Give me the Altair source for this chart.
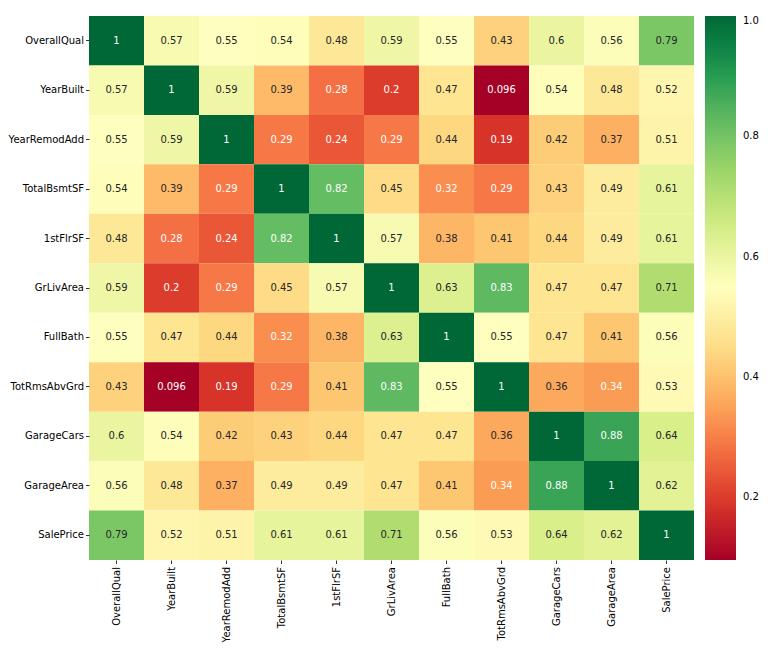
import altair as alt
import pandas as pd
import numpy as np

cols = ["OverallQual", "YearBuilt", "YearRemodAdd", "TotalBsmtSF", "1stFlrSF",
        "GrLivArea", "FullBath", "TotRmsAbvGrd", "GarageCars", "GarageArea", "SalePrice"]

r_overallqual  = [1, 0.57, 0.55, 0.54, 0.48, 0.59, 0.55, 0.43, 0.6, 0.56, 0.79]
r_yearbuilt    = [0.57, 1, 0.59, 0.39, 0.28, 0.2, 0.47, 0.096, 0.54, 0.48, 0.52]
r_yearremodadd = [0.55, 0.59, 1, 0.29, 0.24, 0.29, 0.44, 0.19, 0.42, 0.37, 0.51]
r_totalbsmtsf  = [0.54, 0.39, 0.29, 1, 0.82, 0.45, 0.32, 0.29, 0.43, 0.49, 0.61]
r_1stflrsf     = [0.48, 0.28, 0.24, 0.82, 1, 0.57, 0.38, 0.41, 0.44, 0.49, 0.61]
r_grlivarea    = [0.59, 0.2, 0.29, 0.45, 0.57, 1, 0.63, 0.83, 0.47, 0.47, 0.71]
r_fullbath     = [0.55, 0.47, 0.44, 0.32, 0.38, 0.63, 1, 0.55, 0.47, 0.41, 0.56]
r_totrmsabvgrd = [0.43, 0.096, 0.19, 0.29, 0.41, 0.83, 0.55, 1, 0.36, 0.34, 0.53]
r_garagecars   = [0.6, 0.54, 0.42, 0.43, 0.44, 0.47, 0.47, 0.36, 1, 0.88, 0.64]
r_garagearea   = [0.56, 0.48, 0.37, 0.49, 0.49, 0.47, 0.41, 0.34, 0.88, 1, 0.62]
r_saleprice    = [0.79, 0.52, 0.51, 0.61, 0.61, 0.71, 0.56, 0.53, 0.64, 0.62, 1]

rows = [r_overallqual, r_yearbuilt, r_yearremodadd, r_totalbsmtsf, r_1stflrsf,
        r_grlivarea, r_fullbath, r_totrmsabvgrd, r_garagecars, r_garagearea, r_saleprice]

colorbar_ticks = [0.2, 0.4, 0.6, 0.8, 1.0]

records = []
for i, rname in enumerate(cols):
    for j, cname in enumerate(cols):
        v = rows[i][j]
        records.append({"row": rname, "col": cname, "v": v,
                        "label": (f"{v:.2g}" if v != 1 else "1")})
df = pd.DataFrame(records)

vmin, vmax = 0.0955, 1.0
rdylgn = ['#a50026', '#d73027', '#f46d43', '#fdae61', '#fee08b', '#ffffbf',
          '#d9ef8b', '#a6d96a', '#66bd63', '#1a9850', '#006837']
dom = list(np.linspace(vmin, vmax, len(rdylgn)))

font = "DejaVu Sans"

x = alt.X("col:N", sort=cols, title=None,
          scale=alt.Scale(paddingInner=0, paddingOuter=0),
          axis=alt.Axis(labelAngle=270, labelFontSize=10, labelFont=font, labelColor="black",
                        tickSize=3.5, tickColor="#333", domain=False, labelPadding=3,
                        labelAlign="right", labelBaseline="middle"))
y = alt.Y("row:N", sort=cols, title=None,
          scale=alt.Scale(paddingInner=0, paddingOuter=0),
          axis=alt.Axis(labelFontSize=10, labelFont=font, labelColor="black",
                        tickSize=3.5, tickColor="#333", domain=False, labelPadding=2))

rect = alt.Chart(df).mark_rect(strokeWidth=0).encode(
    x=x, y=y,
    color=alt.Color("v:Q",
                    scale=alt.Scale(domain=dom, range=rdylgn, clamp=True),
                    legend=alt.Legend(title=None, values=colorbar_ticks, format=".1f",
                                      gradientLength=544, gradientThickness=31,
                                      gradientStrokeWidth=0, offset=11,
                                      labelFontSize=10, labelFont=font, labelColor="black",
                                      labelOffset=7, direction="vertical", orient="right")),
)

text = alt.Chart(df).mark_text(fontSize=10, font=font).encode(
    x=alt.X("col:N", sort=cols),
    y=alt.Y("row:N", sort=cols),
    text="label:N",
    color=alt.condition("datum.v < 0.35 || datum.v > 0.8", alt.value("white"), alt.value("#262626")),
)

chart = alt.layer(rect, text).properties(
    width=605, height=544,
    padding={"left": 0, "top": 8, "right": 5, "bottom": 5},
).configure_view(strokeWidth=0).configure_axis(grid=False)

chart.save("out.html", embed_options={"renderer": "svg", "actions": False})
